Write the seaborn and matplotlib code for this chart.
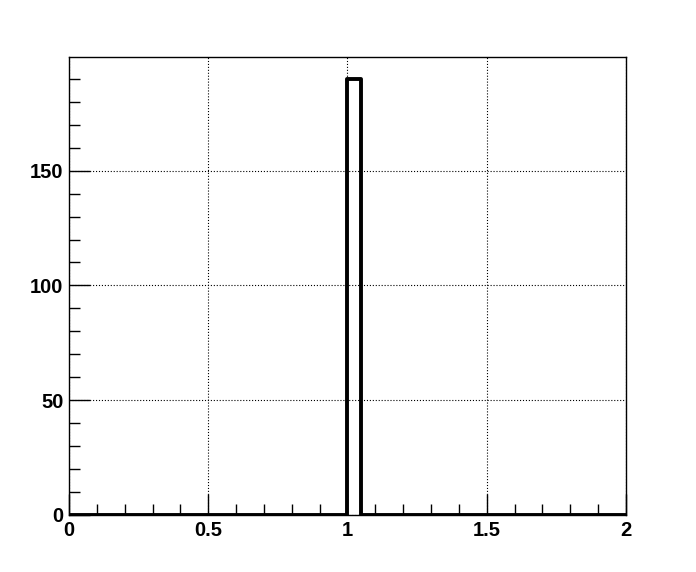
import matplotlib
matplotlib.use("Agg")
import matplotlib.pyplot as plt
from matplotlib.ticker import MultipleLocator
import pandas as pd
import seaborn as sns

# 40 bins of width 0.05 on [0, 2]; only the [1.00, 1.05) bin is filled
bin_edges = [round(0.05 * i, 2) for i in range(41)]
bin_centers = [e + 0.025 for e in bin_edges[:-1]]
counts = [0] * 20 + [190] + [0] * 19

x_ticks = [0, 0.5, 1, 1.5, 2]
x_labels = ["0", "0.5", "1", "1.5", "2"]
y_ticks = [0, 50, 100, 150]
y_labels = ["0", "50", "100", "150"]

df = pd.DataFrame({"x": bin_centers, "n": counts})

sns.set_style("white")
plt.rcParams["font.family"] = ["Liberation Sans", "DejaVu Sans"]

fig = plt.figure(figsize=(6.96, 5.72), dpi=100)
ax = fig.add_axes([0.0991, 0.0997, 0.8003, 0.8006])

sns.histplot(data=df, x="x", weights="n", bins=bin_edges,
             element="step", fill=False, color="black", linewidth=2.8, ax=ax)

ax.set_xlim(0, 2)
ax.set_ylim(0, 199.5)
ax.set_xticks(x_ticks)
ax.set_xticklabels(x_labels, fontsize=14.5, fontweight="bold", color="black")
ax.set_yticks(y_ticks)
ax.set_yticklabels(y_labels, fontsize=14.5, fontweight="bold", color="black")
ax.xaxis.set_minor_locator(MultipleLocator(0.1))
ax.yaxis.set_minor_locator(MultipleLocator(10))
ax.tick_params(which="both", direction="in", bottom=True, left=True,
               top=False, right=False, color="black", width=1)
ax.tick_params(which="major", length=15, pad=4)
ax.tick_params(which="minor", length=8)
ax.set_xlabel(""); ax.set_ylabel("")
ax.grid(True, which="major", linestyle=":", color="black", linewidth=0.8)
for sp in ax.spines.values():
    sp.set_color("black"); sp.set_linewidth(1)

fig.savefig("out.png", dpi=100)
plt.close(fig)
